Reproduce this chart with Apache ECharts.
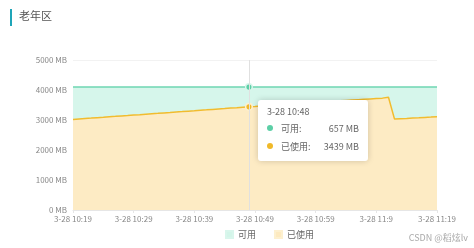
<!DOCTYPE html>
<html><head><meta charset="utf-8">
<script src="https://cdn.jsdelivr.net/npm/echarts@6/dist/echarts.min.js"></script>
<style>html,body{margin:0;padding:0;background:#fff}#c{width:474px;height:248px}</style>
</head><body><div id="c"></div>
<script>
var categories = ["3-28 10:19","3-28 10:20","3-28 10:21","3-28 10:22","3-28 10:23","3-28 10:24","3-28 10:25","3-28 10:26","3-28 10:27","3-28 10:28",
"3-28 10:29","3-28 10:30","3-28 10:31","3-28 10:32","3-28 10:33","3-28 10:34","3-28 10:35","3-28 10:36","3-28 10:37","3-28 10:38",
"3-28 10:39","3-28 10:40","3-28 10:41","3-28 10:42","3-28 10:43","3-28 10:44","3-28 10:45","3-28 10:46","3-28 10:47","3-28 10:48",
"3-28 10:49","3-28 10:50","3-28 10:51","3-28 10:52","3-28 10:53","3-28 10:54","3-28 10:55","3-28 10:56","3-28 10:57","3-28 10:58",
"3-28 10:59","3-28 11:0","3-28 11:1","3-28 11:2","3-28 11:3","3-28 11:4","3-28 11:5","3-28 11:6","3-28 11:7","3-28 11:8",
"3-28 11:9","3-28 11:10","3-28 11:11","3-28 11:12","3-28 11:13","3-28 11:14","3-28 11:15","3-28 11:16","3-28 11:17","3-28 11:18",
"3-28 11:19"];
var usedMB = [3020,3035,3049,3063,3078,3092,3107,3121,3136,3150,
3165,3179,3194,3208,3222,3237,3251,3266,3280,3295,
3309,3324,3338,3353,3367,3381,3396,3410,3425,3439,
3452,3466,3479,3493,3506,3520,3533,3547,3560,3574,
3587,3600,3613,3626,3639,3652,3665,3678,3691,3704,
3716,3729,3760,3030,3041,3052,3064,3075,3087,3098,
3110];
var availableMB = [1076,1061,1047,1033,1018,1004,989,975,960,946,
931,917,902,888,874,859,845,830,816,801,
787,772,758,743,729,715,700,686,671,657,
644,630,617,603,590,576,563,549,536,522,
509,496,483,470,457,444,431,418,405,392,
380,367,336,1066,1055,1044,1032,1021,1009,998,
986];
var yTicks = [0,1000,2000,3000,4000,5000];
var seriesNames = ["可用","已使用"];

var FONT = "'Noto Sans CJK SC','Noto Sans',sans-serif";
var chart = echarts.init(document.getElementById('c'));
chart.setOption({
  animation: false,
  textStyle: {fontFamily: FONT},
  graphic: [
    {type:'rect', left:10, top:9, shape:{width:2, height:17}, style:{fill:'#1fa5b8'}},
    {type:'text', left:19, top:10, style:{text:'老年区', fontSize:11, fill:'#555', fontFamily:FONT}},
    {type:'text', right:6, bottom:6, style:{text:'CSDN @稻炫lv', fontSize:9, fill:'#aaa', fontFamily:FONT}}
  ],
  grid: {left:73, right:37, top:60, bottom:38},
  legend: {
    bottom: 4, left: 220,
    itemWidth: 7, itemHeight: 7, itemGap: 18,
    icon: 'rect',
    textStyle: {fontSize: 9, color: '#666', fontFamily: FONT},
    data: [
      {name: seriesNames[0], itemStyle: {color: '#d3f5e9'}},
      {name: seriesNames[1], itemStyle: {color: '#fdeac0'}}
    ]
  },
  tooltip: {
    trigger: 'axis',
    alwaysShowContent: true,
    position: function(){ return [258, 100]; },
    backgroundColor: '#fff',
    borderColor: '#fff',
    borderWidth: 0,
    padding: [5, 9],
    extraCssText: 'box-shadow:0 0 6px rgba(0,0,0,0.18);border-radius:3px;width:92px;',
    textStyle: {fontSize: 9, color: '#666', fontFamily: FONT},
    axisPointer: {type: 'line', lineStyle: {color: '#e0e0e0', width: 1, type: 'solid'}},
    formatter: function(params){
      var s = '<div style="font-size:9px;color:#666;line-height:14px;margin-bottom:1px">' + params[0].axisValue + '</div>';
      params.forEach(function(p){
        s += '<div style="display:flex;justify-content:space-between;font-size:9px;color:#666;line-height:18px">' +
             '<span><span style="display:inline-block;width:6px;height:6px;border-radius:3px;background:' + p.color + ';margin-right:8px;vertical-align:1px"></span>' + p.seriesName + ':</span>' +
             '<span>' + p.value + ' MB</span></div>';
      });
      return s;
    }
  },
  xAxis: {
    type: 'category',
    boundaryGap: false,
    data: categories,
    axisLine: {lineStyle: {color: '#e6e6e6'}},
    axisTick: {show: true, interval: 9, lineStyle: {color: '#e6e6e6'}, length: 3},
    axisLabel: {interval: 9, fontSize: 8, color: '#888', margin: 5, fontFamily: FONT}
  },
  yAxis: {
    type: 'value',
    min: yTicks[0], max: yTicks[yTicks.length-1], interval: 1000,
    axisLine: {show: false},
    axisTick: {show: false},
    splitLine: {lineStyle: {color: '#f2f2f2'}},
    axisLabel: {fontSize: 8, color: '#888', margin: 6, fontFamily: FONT, formatter: function(v){ return v + ' MB'; }}
  },
  series: [
    {
      name: seriesNames[0], type: 'line', stack: 'mem', stackOrder: 'seriesDesc',
      data: availableMB, showSymbol: false, symbol: 'circle', symbolSize: 6,
      color: '#5ccfa6',
      lineStyle: {color: '#6fd6b2', width: 1.5},
      itemStyle: {color: '#5ccfa6', borderColor: '#d9f6ec', borderWidth: 1.5},
      areaStyle: {color: '#d6f6eb', opacity: 1},
      emphasis: {disabled: true}
    },
    {
      name: seriesNames[1], type: 'line', stack: 'mem', stackOrder: 'seriesDesc',
      data: usedMB, showSymbol: false, symbol: 'circle', symbolSize: 6,
      color: '#f0b929',
      lineStyle: {color: '#f1bc2e', width: 1.5},
      itemStyle: {color: '#f0b929', borderColor: '#fdf0cf', borderWidth: 1.5},
      areaStyle: {color: '#fdebc4', opacity: 1},
      emphasis: {disabled: true}
    }
  ]
});
setTimeout(function(){
  chart.dispatchAction({type: 'showTip', seriesIndex: 0, dataIndex: 29});
}, 50);
</script>
</body></html>
